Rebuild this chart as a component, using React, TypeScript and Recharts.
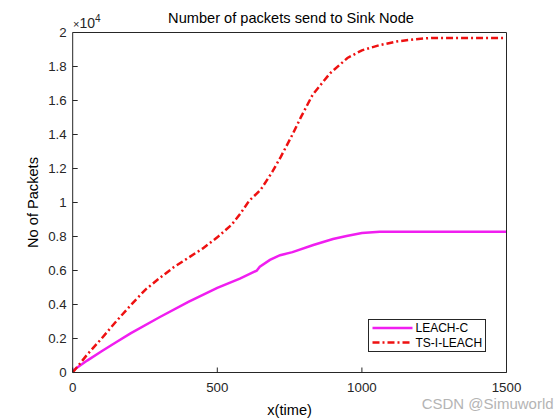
import React from 'react';
import { LineChart, Line, XAxis, YAxis, Legend } from 'recharts';

const xTicks = [0, 500, 1000, 1500];
const yTicks = [0, 2000, 4000, 6000, 8000, 10000, 12000, 14000, 16000, 18000, 20000];

const leachTime = [0, 50, 100, 150, 200, 300, 400, 500, 578, 636, 647, 682, 717, 760, 832, 900, 947, 1000, 1062, 1500];
const leachPackets = [100, 700, 1250, 1780, 2300, 3250, 4150, 4980, 5520, 5990, 6220, 6620, 6900, 7080, 7500, 7850, 8030, 8200, 8280, 8280];

const tsTime = [0, 50, 100, 150, 200, 250, 300, 350, 400, 450, 500, 550, 580, 610, 650, 690, 720, 760, 790, 830, 890, 950, 1000, 1060, 1120, 1180, 1240, 1300, 1500];
const tsPackets = [0, 1050, 2000, 3000, 3950, 4850, 5550, 6200, 6750, 7300, 7950, 8700, 9350, 10100, 10750, 11800, 12700, 14000, 15050, 16350, 17600, 18500, 18950, 19250, 19470, 19600, 19680, 19680, 19680];

const seriesNames = ['LEACH-C', 'TS-I-LEACH'];

const leachData = leachTime.map((t, i) => ({ x: t, y: leachPackets[i] }));
const tsData = tsTime.map((t, i) => ({ x: t, y: tsPackets[i] }));

const AX = '#262626';
const FONT = '"Liberation Sans", Arial, Helvetica, sans-serif';
const MAGENTA = '#f01ef0';
const RED = '#ee1111';
const DASH = '7 3 2 3';

const fmtY = (v: number) => String(Number((v / 10000).toFixed(1)));

const LegendBox = () => (
  <svg width={118} height={33} style={{ display: 'block' }}>
    <rect x={0.5} y={0.5} width={117} height={32} fill="#fff" stroke={AX} strokeWidth={1} />
    <line x1={4.5} x2={44.5} y1={9} y2={9} stroke={MAGENTA} strokeWidth={2.5} />
    <line x1={4.5} x2={44.5} y1={23.5} y2={23.5} stroke={RED} strokeWidth={2.5} strokeDasharray={DASH} />
    <text x={47.5} y={13.3} fontSize={12} fontFamily={FONT} fill="#000">{seriesNames[0]}</text>
    <text x={47.5} y={27.8} fontSize={12} fontFamily={FONT} fill="#000">{seriesNames[1]}</text>
  </svg>
);

export default function App() {
  return (
    <div style={{ position: 'absolute', left: 0, top: 0, width: 560, height: 420, background: '#fff' }}>
      <LineChart width={560} height={420} margin={{ top: 12, right: 0, bottom: 0, left: 0 }}>
        <XAxis
          xAxisId="b"
          orientation="bottom"
          type="number"
          dataKey="x"
          domain={[0, 1500]}
          ticks={xTicks}
          allowDataOverflow
          height={47.5}
          tickSize={-5}
          tickMargin={15}
          stroke={AX}
          axisLine={{ stroke: AX }}
          tickLine={{ stroke: AX }}
          tick={{ fill: AX, fontSize: 13.3, fontFamily: FONT }}
          label={{ value: 'x(time)', position: 'insideBottom', offset: 5, fill: '#000', fontSize: 14.6, fontFamily: FONT }}
        />
        <XAxis
          xAxisId="t"
          orientation="top"
          type="number"
          dataKey="x"
          domain={[0, 1500]}
          ticks={xTicks}
          height={20.5}
          tickSize={-5}
          tick={false}
          axisLine={{ stroke: AX }}
          tickLine={{ stroke: AX }}
        />
        <YAxis
          yAxisId="l"
          orientation="left"
          type="number"
          domain={[0, 20000]}
          ticks={yTicks}
          width={72.7}
          tickSize={-5}
          tickMargin={11}
          tickFormatter={fmtY}
          axisLine={{ stroke: AX }}
          tickLine={{ stroke: AX }}
          tick={{ fill: AX, fontSize: 13.3, fontFamily: FONT }}
          label={{ value: 'No of Packets', angle: -90, position: 'insideLeft', offset: 33, fill: '#000', fontSize: 14.6, fontFamily: FONT, style: { textAnchor: 'middle' } }}
        />
        <YAxis
          yAxisId="r"
          orientation="right"
          type="number"
          domain={[0, 20000]}
          ticks={yTicks}
          width={53.5}
          tickSize={-5}
          tick={false}
          axisLine={{ stroke: AX }}
          tickLine={{ stroke: AX }}
        />
        <Legend
          layout="horizontal"
          verticalAlign="middle"
          align="center"
          wrapperStyle={{ left: 367.7, top: 319.3, width: 118, height: 33 }}
          content={() => <LegendBox />}
        />
        <Line
          xAxisId="b"
          yAxisId="l"
          data={leachData}
          dataKey="y"
          name={seriesNames[0]}
          type="linear"
          stroke={MAGENTA}
          strokeWidth={2.5}
          dot={false}
          activeDot={false}
          isAnimationActive={false}
        />
        <Line
          xAxisId="b"
          yAxisId="l"
          data={tsData}
          dataKey="y"
          name={seriesNames[1]}
          type="linear"
          stroke={RED}
          strokeWidth={2.5}
          strokeDasharray={DASH}
          dot={false}
          activeDot={false}
          isAnimationActive={false}
        />
        <text x={291} y={23} textAnchor="middle" fontSize={14.6} fontFamily={FONT} fill="#000">
          Number of packets send to Sink Node
        </text>
        <text x={73} y={28.3} fontSize={14} fontFamily={FONT} fill={AX}>
          <tspan fontSize={11}>×</tspan>10<tspan dy={-6} fontSize={10}>4</tspan>
        </text>
        <text x={421.7} y={408.5} fontSize={15} fontFamily={FONT} fill="#b4b4b4">
          CSDN @Simuworld
        </text>
      </LineChart>
    </div>
  );
}
